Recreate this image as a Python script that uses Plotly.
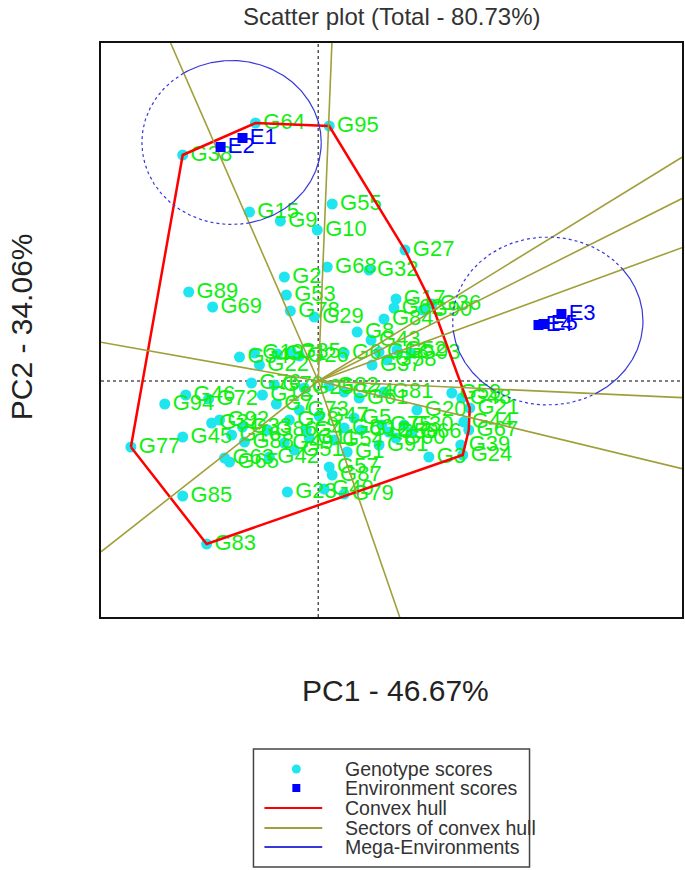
import numpy as np
import plotly.graph_objects as go

# genotype scores (PC1, PC2)
GENOTYPES = [
    "G64", "G95", "G38", "G15", "G9", "G55", "G10", "G27", "G68", "G32",
    "G2", "G89", "G53", "G69", "G78", "G29", "G17", "G62", "G90", "G36",
    "G84", "G8", "G43", "G6", "G13", "G52", "G93", "G37", "G58", "G34",
    "G19", "G22", "G71", "G35", "G26", "G76", "G70", "G18", "G7", "G82",
    "G25", "G61", "G74", "G81", "G94", "G46", "G72", "G77", "G45", "G31",
    "G92", "G33", "G16", "G88", "G63", "G65", "G42", "G85", "G83", "G86",
    "G28", "G73", "G47", "G4", "G11", "G49", "G51", "G23", "G12", "G80",
    "G54", "G5", "G1", "G57", "G87", "G40", "G79", "G75", "G50", "G60",
    "G66", "G30", "G20", "G3", "G91", "G59", "G48", "G21", "G44", "G67",
    "G39", "G24",
]
GEN_PC1 = [
    -6.3, 1.1, -13.6, -6.9, -3.8, 1.4, -0.1, 8.7, 0.9, 5.1,
    -3.4, -13.0, -3.2, -10.6, -2.8, -0.4, 7.8, 7.6, 10.5, 11.4,
    6.6, 3.9, 5.3, 2.6, 6.1, 7.9, 9.3, 5.4, 6.9, -7.9,
    -6.4, -5.9, -4.1, -2.7, -1.9, -6.7, -4.4, -5.6, -4.2, 1.1,
    -1.4, 4.1, 2.6, 6.6, -15.4, -13.3, -11.0, -18.8, -13.6, -10.7,
    -9.9, -7.6, -8.7, -7.4, -9.4, -8.9, -4.9, -13.6, -11.2, -5.1,
    -2.9, -1.9, 0.1, -1.2, -0.9, -3.4, -2.4, -3.1, 4.3, 2.6,
    1.6, 3.6, 2.9, 1.1, 1.4, 0.6, 2.6, 6.4, 7.1, 7.8,
    9.4, 8.6, 9.9, 11.1, 6.1, 13.4, 14.4, 15.2, 14.6, 15.1,
    14.3, 14.5,
]
GEN_PC2 = [
    25.8, 25.5, 22.6, 16.9, 16.0, 17.7, 15.1, 13.1, 11.4, 11.1,
    10.4, 8.9, 8.6, 7.4, 7.0, 6.4, 8.2, 7.3, 7.1, 7.7,
    6.2, 4.9, 4.1, 2.8, 2.9, 3.1, 2.8, 1.6, 2.1, 2.4,
    2.8, 1.6, 2.7, 2.9, 2.5, -0.2, -0.4, -1.4, -2.3, -0.5,
    -0.7, -1.7, -1.1, -1.1, -2.3, -1.4, -1.8, -6.6, -5.6, -4.2,
    -3.9, -4.6, -5.4, -6.1, -7.7, -8.1, -7.6, -11.5, -16.3, -4.9,
    -3.9, -2.9, -3.5, -4.9, -5.7, -6.2, -6.9, -11.1, -4.9, -4.7,
    -5.9, -3.7, -7.1, -8.6, -9.4, -10.8, -11.3, -4.4, -5.1, -5.7,
    -5.1, -4.4, -2.9, -7.6, -6.4, -1.2, -1.7, -2.7, -4.1, -4.9,
    -6.4, -7.4,
]

# environment scores
ENVIRONMENTS = ["E1", "E2", "E3", "E4", "E5"]
ENV_PC1 = [-7.6, -9.8, 24.4, 22.1, 22.6]
ENV_PC2 = [24.3, 23.4, 6.7, 5.6, 5.7]

# mega-environments and circle radii
MEGA_ENVS = [["E1", "E2"], ["E3", "E4", "E5"]]
MEGA_RX = [9.0, 9.55]
MEGA_RY = [8.2, 8.4]

TITLE = "Scatter plot (Total - 80.73%)"
XLAB = "PC1 - 46.67%"
YLAB = "PC2 - 34.06%"
X_RANGE = [-21.8, 36.5]
Y_RANGE = [-23.6, 33.8]

LEGEND_ITEMS = [
    "Genotype scores",
    "Environment scores",
    "Convex hull",
    "Sectors of convex hull",
    "Mega-Environments",
]

CYAN = "#1FE6EE"
GREEN = "#11EE11"
BLUE = "#0000FF"
RED = "#FF0000"
OLIVE = "#A19F3A"
CIRCLE = "#3838D8"
FONT = "Liberation Sans, Arial, sans-serif"


def convex_hull(xs, ys):
    pts = sorted(zip(xs, ys, range(len(xs))))

    def cross(o, a, b):
        return (a[0] - o[0]) * (b[1] - o[1]) - (a[1] - o[1]) * (b[0] - o[0])

    lower, upper = [], []
    for p in pts:
        while len(lower) >= 2 and cross(lower[-2], lower[-1], p) <= 0:
            lower.pop()
        lower.append(p)
    for p in reversed(pts):
        while len(upper) >= 2 and cross(upper[-2], upper[-1], p) <= 0:
            upper.pop()
        upper.append(p)
    return [p[2] for p in lower[:-1] + upper[:-1]]  # counter-clockwise


def ray_to_box(nx, ny):
    ts = []
    if nx > 0:
        ts.append(X_RANGE[1] / nx)
    elif nx < 0:
        ts.append(X_RANGE[0] / nx)
    if ny > 0:
        ts.append(Y_RANGE[1] / ny)
    elif ny < 0:
        ts.append(Y_RANGE[0] / ny)
    t = min(ts)
    return nx * t, ny * t


gx = np.array(GEN_PC1)
gy = np.array(GEN_PC2)
hull = convex_hull(GEN_PC1, GEN_PC2)
hx = gx[hull]
hy = gy[hull]


def winner(x, y):
    return int(np.argmax(hx * x + hy * y))


fig = go.Figure()

# genotypes
fig.add_trace(go.Scatter(
    x=GEN_PC1, y=GEN_PC2, mode="markers+text", text=GENOTYPES,
    textposition="middle right",
    textfont=dict(family=FONT, size=22, color=GREEN),
    marker=dict(color=CYAN, size=11), showlegend=False, hoverinfo="text",
))

# convex hull
fig.add_trace(go.Scatter(
    x=list(hx) + [hx[0]], y=list(hy) + [hy[0]], mode="lines",
    line=dict(color=RED, width=2.5), showlegend=False, hoverinfo="skip",
))

# sector lines, perpendicular to each hull edge
sx, sy = [], []
n = len(hull)
for i in range(n):
    dx = hx[(i + 1) % n] - hx[i]
    dy = hy[(i + 1) % n] - hy[i]
    ex, ey = ray_to_box(dy, -dx)
    sx += [0, ex, None]
    sy += [0, ey, None]
fig.add_trace(go.Scatter(
    x=sx, y=sy, mode="lines", line=dict(color=OLIVE, width=1.6),
    showlegend=False, hoverinfo="skip",
))

# mega-environment circles: solid inside the winning sector, dotted outside
theta = np.linspace(0, 2 * np.pi, 721)
for group, rx, ry in zip(MEGA_ENVS, MEGA_RX, MEGA_RY):
    idx = [ENVIRONMENTS.index(e) for e in group]
    cx = np.mean([ENV_PC1[k] for k in idx])
    cy = np.mean([ENV_PC2[k] for k in idx])
    win = winner(cx, cy)
    px = cx + rx * np.cos(theta)
    py = cy + ry * np.sin(theta)
    same = [winner(a, b) == win for a, b in zip(px, py)]
    runs = {True: ([], []), False: ([], [])}
    for j in range(len(px)):
        runs[same[j]][0].append(px[j])
        runs[same[j]][1].append(py[j])
        if j + 1 < len(px) and same[j + 1] != same[j]:
            runs[same[j]][0].extend([px[j + 1], None])
            runs[same[j]][1].extend([py[j + 1], None])
    for solid, (cxs, cys) in runs.items():
        if not cxs:
            continue
        fig.add_trace(go.Scatter(
            x=cxs, y=cys, mode="lines",
            line=dict(color=CIRCLE, width=1.2, dash="solid" if solid else "dot"),
            showlegend=False, hoverinfo="skip",
        ))

# environments
fig.add_trace(go.Scatter(
    x=ENV_PC1, y=ENV_PC2, mode="markers+text", text=ENVIRONMENTS,
    textposition="middle right",
    textfont=dict(family=FONT, size=22, color=BLUE),
    marker=dict(color=BLUE, size=10, symbol="square"),
    showlegend=False, hoverinfo="text",
))

# origin reference lines
shapes = [
    dict(type="line", xref="x", yref="paper", x0=0, x1=0, y0=0, y1=1,
         line=dict(color="#555555", width=1.5, dash="dot"), layer="below"),
    dict(type="line", xref="paper", yref="y", x0=0, x1=1, y0=0, y1=0,
         line=dict(color="#555555", width=1.5, dash="dot"), layer="below"),
]

# legend box drawn in paper space (page pixel positions -> paper fractions)
W, H = 583.0, 574.0
L, T = 101.0, 43.0


def pxp(px):
    return (px - L) / W


def pyp(py):
    return (T + H - py) / H


shapes.append(dict(type="rect", xref="paper", yref="paper",
                   x0=pxp(254), x1=pxp(531), y0=pyp(867), y1=pyp(749),
                   line=dict(color="#444444", width=1.5)))
row_y = [769, 788, 808, 828, 847]
shapes.append(dict(type="circle", xref="paper", yref="paper",
                   x0=pxp(292.5), x1=pxp(301.5), y0=pyp(row_y[0] + 4.5), y1=pyp(row_y[0] - 4.5),
                   fillcolor=CYAN, line=dict(width=0)))
shapes.append(dict(type="rect", xref="paper", yref="paper",
                   x0=pxp(293), x1=pxp(301), y0=pyp(row_y[1] + 4), y1=pyp(row_y[1] - 4),
                   fillcolor=BLUE, line=dict(width=0)))
for yy, col in zip(row_y[2:], [RED, OLIVE, CIRCLE]):
    shapes.append(dict(type="line", xref="paper", yref="paper",
                       x0=pxp(265), x1=pxp(323), y0=pyp(yy), y1=pyp(yy),
                       line=dict(color=col, width=2)))

annotations = [
    dict(text=TITLE, xref="paper", yref="paper", x=0.5, y=pyp(16),
         showarrow=False, font=dict(family=FONT, size=24, color="#333333"),
         xanchor="center", yanchor="middle"),
    dict(text=XLAB, xref="paper", yref="paper", x=pxp(397), y=pyp(690),
         showarrow=False, font=dict(family=FONT, size=30, color="#222222"),
         xanchor="center", yanchor="middle"),
    dict(text=YLAB, xref="paper", yref="paper", x=pxp(21), y=pyp(327),
         showarrow=False, textangle=-90, font=dict(family=FONT, size=30, color="#222222"),
         xanchor="center", yanchor="middle"),
]
for yy, label in zip(row_y, LEGEND_ITEMS):
    annotations.append(dict(text=label, xref="paper", yref="paper", x=pxp(344), y=pyp(yy),
                            showarrow=False, xanchor="left", yanchor="middle",
                            font=dict(family=FONT, size=19.5, color="#333333")))

axis = dict(showgrid=False, zeroline=False, showticklabels=False, ticks="",
            showline=True, mirror=True, linecolor="#111111", linewidth=2)
fig.update_layout(
    width=685, height=870,
    margin=dict(l=101, r=1, t=43, b=253),
    plot_bgcolor="white", paper_bgcolor="white",
    xaxis=dict(range=X_RANGE, **axis),
    yaxis=dict(range=Y_RANGE, **axis),
    shapes=shapes, annotations=annotations, showlegend=False,
)
# drop the default page margin so the figure sits at the window's top-left corner
fig.write_html(
    "out.html",
    config={"displayModeBar": False},
    post_script="document.body.style.margin='0';document.body.style.overflow='hidden';",
)
